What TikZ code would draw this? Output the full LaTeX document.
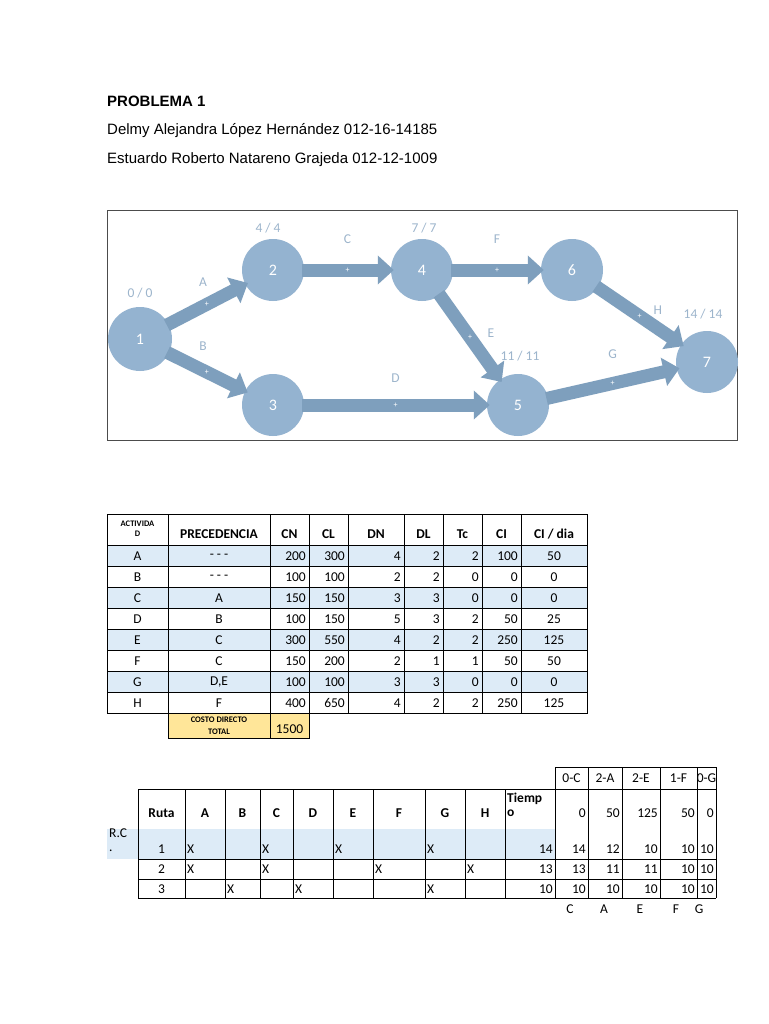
\documentclass[tikz,border=0pt]{standalone}
\usepackage{fontspec}
\setmainfont{Carlito}
\newfontfamily\arial{Liberation Sans}
\usetikzlibrary{arrows.meta}
\definecolor{nodeblue}{HTML}{94B3D0}
\definecolor{arrblue}{HTML}{7E9FBD}
\definecolor{lblblue}{HTML}{9DB5CC}
\definecolor{rowblue}{HTML}{DDEBF7}
\definecolor{costyel}{HTML}{FFE699}
\tikzset{
  ev/.style={circle,fill=nodeblue,minimum size=62pt,inner sep=0pt,text=white,font=\fontsize{16}{16}\selectfont},
  flow/.style={arrblue,line width=13pt,-{Triangle[width=28pt,length=16pt]},shorten <=-2pt,shorten >=-3pt},
  lbl/.style={text=lblblue,font=\fontsize{13.5}{14}\selectfont,inner sep=0pt},
  plus/.style={text=white,font=\fontsize{8}{8}\selectfont,inner sep=0pt},
  cell/.style={inner sep=0pt,font=\fontsize{13.5}{14}\selectfont},
  hcell/.style={inner sep=0pt,font=\bfseries\fontsize{13.5}{14}\selectfont},
  grid/.style={black,line width=0.6pt}
}
\begin{document}
\begin{tikzpicture}[x=1pt,y=-1pt]
\useasboundingbox (0,0) rectangle (768,1024);
\fill[white] (0,0) rectangle (768,1024);
% header
\node[anchor=west,inner sep=0pt,font=\arial\bfseries\fontsize{15}{15}\selectfont] (title) at (107,101) {PROBLEMA 1};
\node[anchor=west,inner sep=0pt,font=\arial\fontsize{15}{15}\selectfont] (n1) at (107,131) {Delmy Alejandra López Hernández 012-16-14185};
\node[anchor=west,inner sep=0pt,font=\arial\fontsize{15}{15}\selectfont] (n2) at (107,160) {Estuardo Roberto Natareno Grajeda 012-12-1009};
% diagram frame
\draw[black!70,line width=0.6pt] (107,210) rectangle (737,440);
\node[ev,minimum size=64pt] (e1) at (140,339) {1};
\node[ev] (e2) at (273,270) {2};
\node[ev] (e3) at (273,405) {3};
\node[ev] (e4) at (422,270) {4};
\node[ev] (e5) at (518,405) {5};
\node[ev] (e6) at (572,270) {6};
\node[ev] (e7) at (707,362) {7};
\draw[flow] (e1) -- (e2) node[plus,midway]{+} node[lbl,pos=0.45,above=13pt]{A};
\draw[flow] (e1) -- (e3) node[plus,midway]{+} node[lbl,pos=0.45,above=13pt]{B};
\draw[flow] (e2) -- (e4) node[plus,midway]{+} node[lbl,midway,above=20pt]{C};
\draw[flow] (e4) -- (e6) node[plus,midway]{+} node[lbl,midway,above=20pt]{F};
\draw[flow] (e3) -- (e5) node[plus,midway]{+} node[lbl,midway,above=16pt]{D};
\draw[flow] (e4) -- (e5) node[plus,midway]{+} node[lbl,pos=0.45,right=14pt]{E};
\draw[flow] (e6) -- (e7) node[plus,midway]{+} node[lbl,pos=0.4,right=16pt]{H};
\draw[flow] (e5) -- (e7) node[plus,midway]{+} node[lbl,midway,above=18pt]{G};
\node[lbl] (l1) at (140,293) {0 / 0};
\node[lbl] (l2) at (268,228) {4 / 4};
\node[lbl] (l4) at (424,228) {7 / 7};
\node[lbl] (l5) at (520,356) {11 / 11};
\node[lbl] (l7) at (703,314) {14 / 14};
% ---------- table 1
\foreach \r in {1,3,5,7} \fill[rowblue] (107,{545+21*(\r-1)}) rectangle (587,{545+21*\r});
\fill[costyel] (168,713) rectangle (309,738);
\draw[grid] (107,514) rectangle (587,713);
\foreach \yy in {545,566,587,608,629,650,671,692} \draw[grid] (107,\yy) -- (587,\yy);
\foreach \xx in {168,270,309,348,404,443,482,521} \draw[grid] (\xx,514) -- (\xx,713);
\draw[grid] (168,713) rectangle (309,738);
\draw[grid] (270,713) -- (270,738);
\node[hcell,align=center,font=\bfseries\fontsize{8.5}{10}\selectfont] (h1) at (137.5,529) {ACTIVIDA\\D};
\node[hcell] (h2) at (219,534) {PRECEDENCIA};
\node[hcell] (h3) at (289.5,534) {CN};
\node[hcell] (h4) at (328.5,534) {CL};
\node[hcell] (h5) at (376,534) {DN};
\node[hcell] (h6) at (423.5,534) {DL};
\node[hcell] (h7) at (462.5,534) {Tc};
\node[hcell] (h8) at (501.5,534) {CI};
\node[hcell] (h9) at (554,534) {CI / dia};
\foreach \l/\p/\cn/\cl/\dn/\dl/\tc/\ci/\cd [count=\r] in {A/- - -/200/300/4/2/2/100/50, B/- - -/100/100/2/2/0/0/0, C/A/150/150/3/3/0/0/0, D/B/100/150/5/3/2/50/25, E/C/300/550/4/2/2/250/125, F/C/150/200/2/1/1/50/50, G/{D,E}/100/100/3/3/0/0/0, H/F/400/650/4/2/2/250/125}{
  \pgfmathsetmacro\yc{545+21*(\r-1)+11}
  \node[cell] (a\r) at (137.5,\yc) {\l};
  \node[cell] (p\r) at (219,\yc) {\p};
  \node[cell,anchor=east] (cn\r) at (306,\yc) {\cn};
  \node[cell,anchor=east] (cl\r) at (345,\yc) {\cl};
  \node[cell,anchor=east] (dn\r) at (401,\yc) {\dn};
  \node[cell,anchor=east] (dl\r) at (440,\yc) {\dl};
  \node[cell,anchor=east] (tc\r) at (479,\yc) {\tc};
  \node[cell,anchor=east] (ci\r) at (518,\yc) {\ci};
  \node[cell] (cd\r) at (554,\yc) {\cd};
}
\node[hcell,align=center,font=\bfseries\fontsize{8.5}{12}\selectfont] (cdt) at (219,725.5) {COSTO DIRECTO\\TOTAL};
\node[cell] (cdv) at (289.5,729) {1500};
% ---------- table 2
\fill[rowblue] (107,829) rectangle (555,859);
\draw[grid] (555,767) -- (716,767);
\draw[grid] (138,789) -- (716,789);
\foreach \yy in {859,879,898} \draw[grid] (138,\yy) -- (716,\yy);
\foreach \xx in {138,185,225,260,293,333,373,425,465,505} \draw[grid] (\xx,789) -- (\xx,898);
\foreach \xx in {555,588,622,660,697,716} \draw[grid] (\xx,767) -- (\xx,898);
\node[hcell] (r0) at (161.5,813) {Ruta};
\foreach \t/\a/\b [count=\k] in {A/185/225,B/225/260,C/260/293,D/293/333,E/333/373,F/373/425,G/425/465,H/465/505}
  \node[hcell] (rh\k) at ({(\a+\b)/2},813) {\t};
\node[hcell,anchor=west,align=left] (tiempo) at (507,805) {Tiemp\\o};
\foreach \t/\v/\a/\b [count=\k] in {0-C/0/555/588,2-A/50/588/622,2-E/125/622/660,1-F/50/660/697,0-G/0/697/716}{
  \node[cell] (sh\k) at ({(\a+\b)/2},778) {\t};
  \node[cell,anchor=east] (sv\k) at ({\b-2},813) {\v};
}
\node[cell,anchor=west,align=left] (rc) at (109,840) {R.C\\.};
% rows
\foreach \n/\yc in {1/849,2/869,3/889} \node[cell] (rn\n) at (161.5,\yc) {\n};
\foreach \xx/\yc [count=\k] in {187/849,262/849,335/849,427/849,187/869,262/869,375/869,467/869,227/889,295/889,427/889}
  \node[cell,anchor=west] (x\k) at (\xx,\yc) {X};
\foreach \t/\yc [count=\k] in {14/849,13/869,10/889} \node[cell,anchor=east] (tt\k) at (553,\yc) {\t};
\foreach \va/\vb/\vc/\vd/\ve/\yc [count=\k] in {14/12/10/10/10/849,13/11/11/10/10/869,10/10/10/10/10/889}{
  \node[cell,anchor=east] (va\k) at (586,\yc) {\va};
  \node[cell,anchor=east] (vb\k) at (620,\yc) {\vb};
  \node[cell,anchor=east] (vc\k) at (658,\yc) {\vc};
  \node[cell,anchor=east] (vd\k) at (695,\yc) {\vd};
  \node[cell,anchor=east] (ve\k) at (714,\yc) {\ve};
}
\foreach \t/\xx [count=\k] in {C/570,A/604,E/640,F/676,G/699} \node[cell] (bl\k) at (\xx,909) {\t};
\end{tikzpicture}
\end{document}
